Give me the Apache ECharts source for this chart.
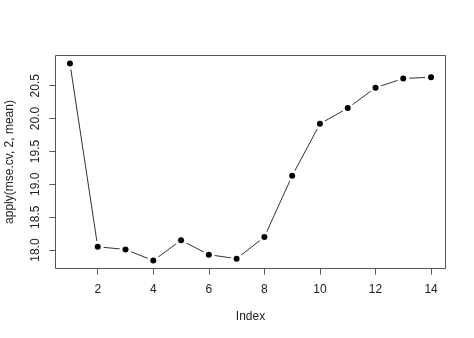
<!DOCTYPE html>
<html>
<head>
<meta charset="utf-8">
<script src="https://cdn.jsdelivr.net/npm/echarts@6/dist/echarts.min.js"></script>
<style>html,body{margin:0;padding:0;background:#fff;}#c{width:474px;height:338px;}</style>
</head>
<body>
<div id="c"></div>
<script>
var indexValues = [1,2,3,4,5,6,7,8,9,10,11,12,13,14];
var meanValues = [20.84,18.05,18.01,17.84,18.15,17.93,17.87,18.20,19.13,19.92,20.16,20.47,20.61,20.63];
var xTicks = [2,4,6,8,10,12,14];
var yTicks = [18.0,18.5,19.0,19.5,20.0,20.5];
var xTitle = 'Index';
var yTitle = 'apply(mse.cv, 2, mean)';

var pts = indexValues.map(function(x,i){return [x, meanValues[i]];});
var font = 'Liberation Sans';
var chart = echarts.init(document.getElementById('c'));
chart.setOption({
  animation:false,
  backgroundColor:'#fff',
  grid:{left:55.5,top:55.5,right:28.5,bottom:69.5,outerBoundsMode:'none',containLabel:false,show:true,borderColor:'#555',borderWidth:1,backgroundColor:'transparent'},
  xAxis:{type:'value',min:0.48,max:14.52,
    name:xTitle,nameLocation:'middle',nameGap:42,nameTextStyle:{fontFamily:font,fontSize:12,color:'#222'},
    axisLine:{show:false},splitLine:{show:false},
    axisTick:{show:true,length:6,inside:false,customValues:xTicks,lineStyle:{color:'#555'}},
    axisLabel:{customValues:xTicks,margin:15,fontFamily:font,fontSize:12,color:'#222'}},
  yAxis:{type:'value',min:17.72,max:20.96,
    name:yTitle,nameLocation:'middle',nameGap:40,nameRotate:90,nameTextStyle:{fontFamily:font,fontSize:12,color:'#222'},
    axisLine:{show:false},splitLine:{show:false},
    axisTick:{show:true,length:6,inside:false,customValues:yTicks,lineStyle:{color:'#555'}},
    axisLabel:{customValues:yTicks,rotate:90,margin:14,fontFamily:font,fontSize:12,color:'#222',
      formatter:function(v){return v.toFixed(1);}}},
  series:[
    {type:'line',data:pts,showSymbol:false,lineStyle:{color:'#333',width:1},z:1},
    {type:'scatter',data:pts,symbol:'circle',symbolSize:12,itemStyle:{color:'#fff',opacity:1},z:2},
    {type:'scatter',data:pts,symbol:'circle',symbolSize:6,itemStyle:{color:'#000',opacity:1},z:3}
  ]
});
</script>
</body>
</html>
